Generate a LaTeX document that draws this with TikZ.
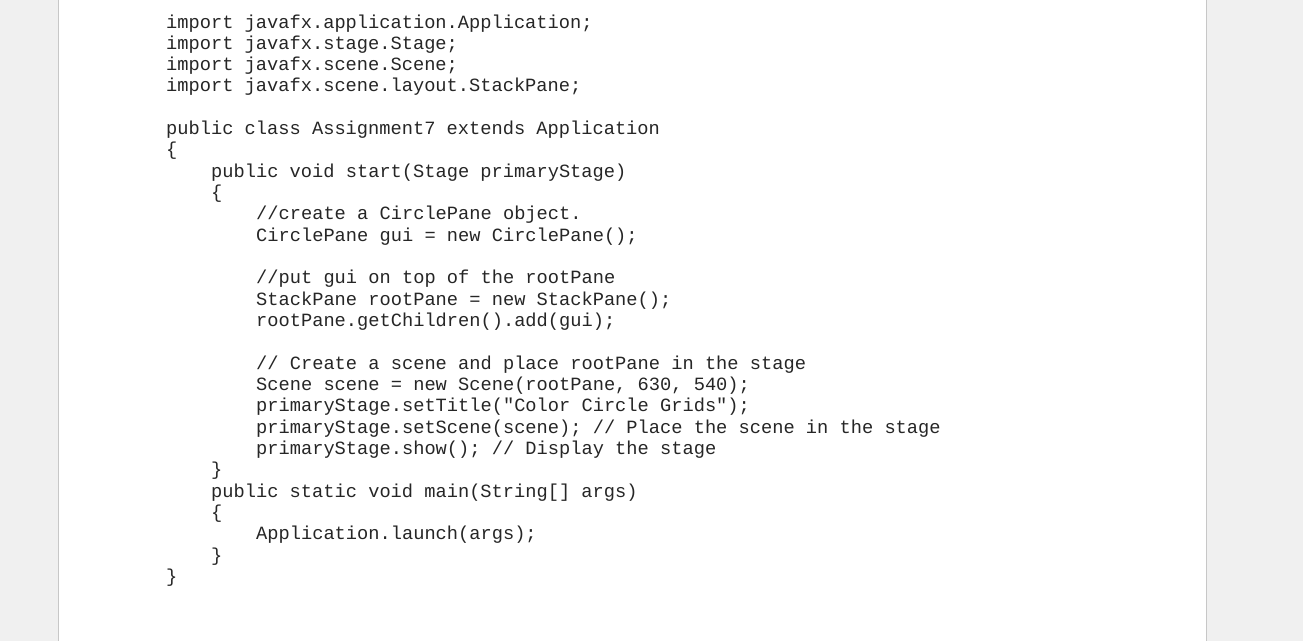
\documentclass[tikz,border=0pt]{standalone}
\usepackage{fontspec}
\setmonofont{Liberation Mono}
\begin{document}
\begin{tikzpicture}[x=1pt,y=-1pt,
  code/.style={anchor=base west,inner sep=0pt,font=\ttfamily\fontsize{18.7}{21}\selectfont,text=black!85}]
\useasboundingbox (0,0) rectangle (1303,641);
\fill[black!6] (0,0) rectangle (1303,641);
\fill[white] (58,0) rectangle (1207,641);
\draw[black!22] (58.5,0) -- (58.5,641) (1206.5,0) -- (1206.5,641);
\def\L#1#2#3#4{\node[code] (#1) at ({166+45*#2},{22+21.33*#3+6}) {#4};}
\L{a0}{0}{0}{import javafx.application.Application;}
\L{a1}{0}{1}{import javafx.stage.Stage;}
\L{a2}{0}{2}{import javafx.scene.Scene;}
\L{a3}{0}{3}{import javafx.scene.layout.StackPane;}
\L{a5}{0}{5}{public class Assignment7 extends Application}
\L{a6}{0}{6}{\{}
\L{a7}{1}{7}{public void start(Stage primaryStage)}
\L{a8}{1}{8}{\{}
\L{a9}{2}{9}{//create a CirclePane object.}
\L{a10}{2}{10}{CirclePane gui = new CirclePane();}
\L{a12}{2}{12}{//put gui on top of the rootPane}
\L{a13}{2}{13}{StackPane rootPane = new StackPane();}
\L{a14}{2}{14}{rootPane.getChildren().add(gui);}
\L{a16}{2}{16}{// Create a scene and place rootPane in the stage}
\L{a17}{2}{17}{Scene scene = new Scene(rootPane, 630, 540);}
\L{a18}{2}{18}{primaryStage.setTitle("Color Circle Grids");}
\L{a19}{2}{19}{primaryStage.setScene(scene); // Place the scene in the stage}
\L{a20}{2}{20}{primaryStage.show(); // Display the stage}
\L{a21}{1}{21}{\}}
\L{a22}{1}{22}{public static void main(String[] args)}
\L{a23}{1}{23}{\{}
\L{a24}{2}{24}{Application.launch(args);}
\L{a25}{1}{25}{\}}
\L{a26}{0}{26}{\}}
\end{tikzpicture}
\end{document}
